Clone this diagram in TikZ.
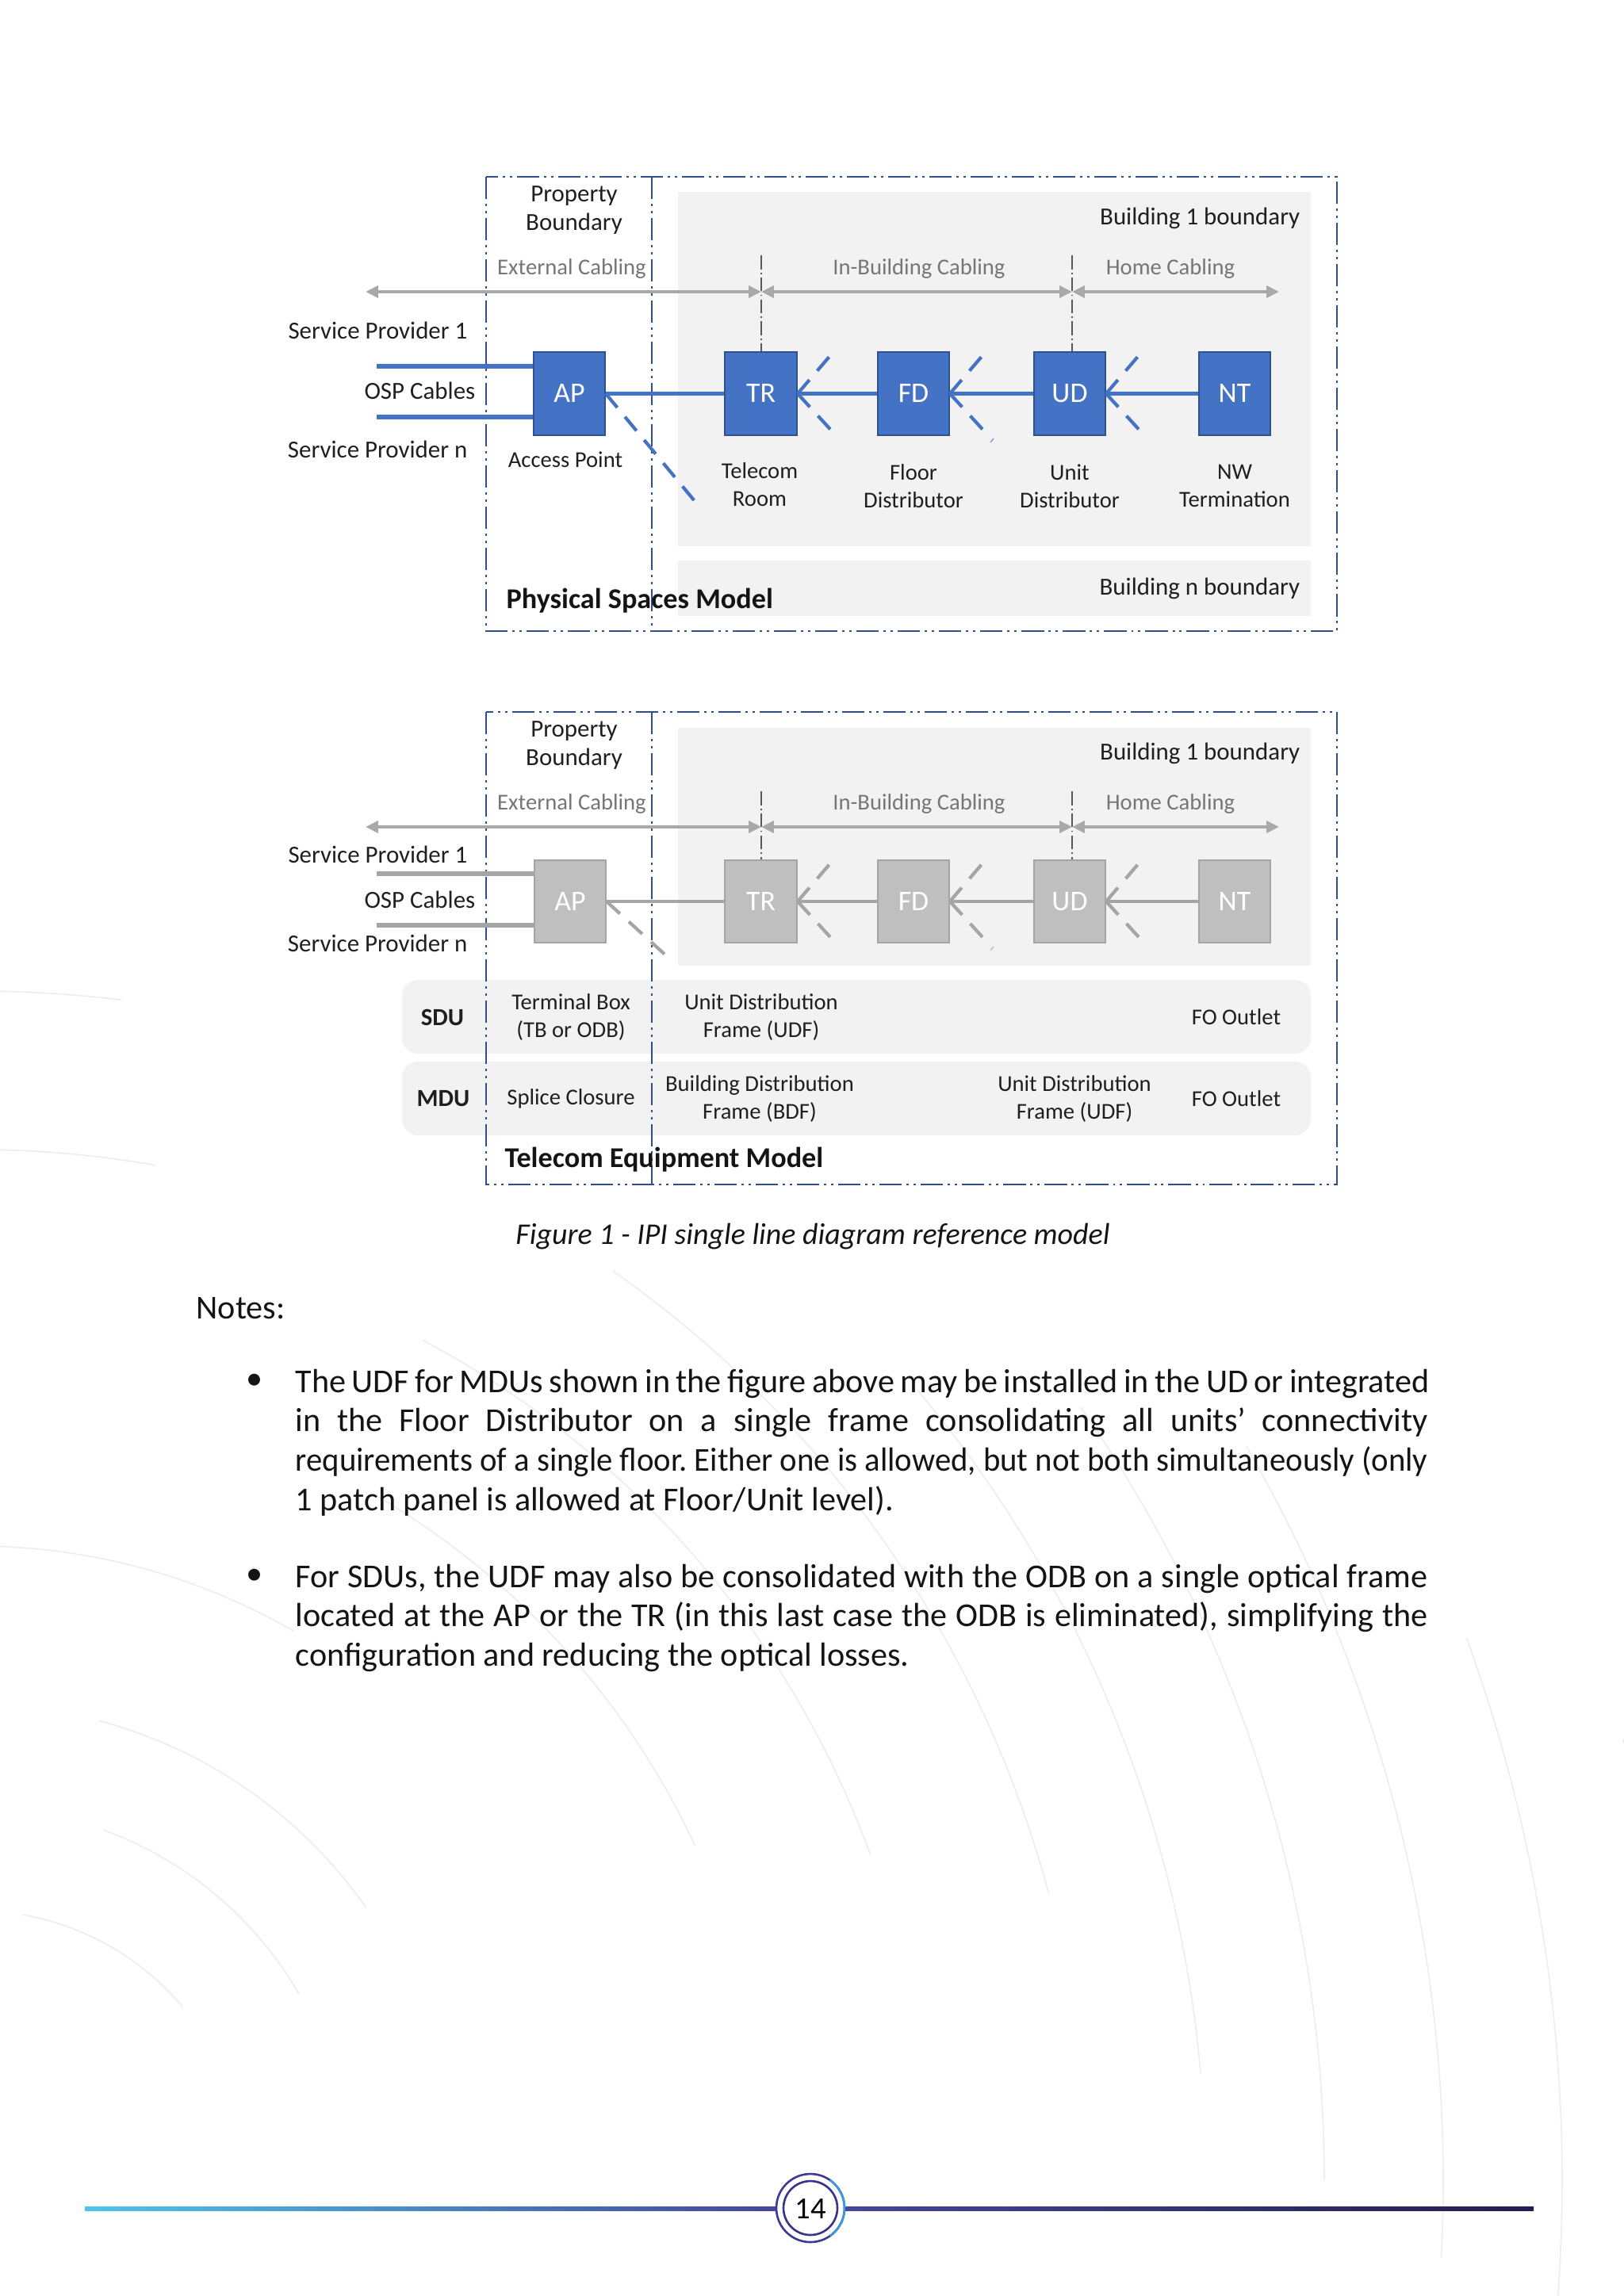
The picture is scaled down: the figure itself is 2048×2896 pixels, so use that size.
\documentclass[tikz,border=0pt]{standalone}
\usepackage{fontspec}
\usepackage{graphicx}
\setmainfont{Carlito}
\usetikzlibrary{arrows.meta}
\definecolor{apblue}{HTML}{4472C4}
\definecolor{apborder}{HTML}{2F528F}
\definecolor{bfill}{HTML}{F2F2F2}
\definecolor{arrgray}{HTML}{A9A9A9}
\definecolor{boxgray}{HTML}{BFBFBF}
\definecolor{boxgrayb}{HTML}{A5A5A5}
\definecolor{navy}{HTML}{2E4E8E}
\definecolor{txtgray}{HTML}{767676}
\definecolor{footcyan}{HTML}{4CC4EE}
\definecolor{footmid}{HTML}{3F56AA}
\definecolor{footblue}{HTML}{45469C}
\definecolor{footnavy}{HTML}{221E4D}
\definecolor{ringpurple}{HTML}{3F3A94}
\definecolor{ringblue}{HTML}{3B9BDA}
\definecolor{bgarc}{HTML}{EDEDED}
\newcommand\justline[1]{\makebox[142.8mm][s]{#1}}
\newcommand\squeezeline[1]{\resizebox{142.8mm}{\height}{#1}}
\newcommand\notespacing{\frenchspacing\spaceskip=0.226em plus 0.6em minus 0.05em\relax\xspaceskip=\spaceskip}
\begin{document}
\begin{tikzpicture}[x=0.1mm,y=-0.1mm,
  lbl/.style={font=\fontsize{8.8}{10.2}\selectfont, text=black!88, align=center, inner sep=0pt},
  slbl/.style={lbl, font=\fontsize{8.15}{10}\selectfont},
  glbl/.style={slbl, text=txtgray},
  blbl/.style={lbl, font=\bfseries\fontsize{8.8}{10.2}\selectfont},
  ttl/.style={font=\bfseries\fontsize{10.3}{12}\selectfont, text=black!92, inner sep=0pt, anchor=west},
  bbox/.style={rectangle, draw=apborder, fill=apblue, line width=0.5pt, minimum width=9mm, minimum height=10.5mm, inner sep=0pt, text=white, font=\fontsize{10.2}{12}\selectfont},
  gbox/.style={bbox, draw=boxgrayb, fill=boxgray, minimum height=10.4mm},
  cable/.style={draw=apblue, line width=1.4pt},
  osp/.style={draw=apblue, line width=1.6pt},
  gcable/.style={draw=boxgrayb, line width=1.4pt},
  gosp/.style={draw=boxgrayb, line width=1.6pt},
  arm/.style={draw=apblue, line width=1.2pt, dash pattern=on 6.5pt off 4.3pt},
  garm/.style={arm, draw=boxgrayb},
  span/.style={draw=arrgray, line width=1.1pt, {Triangle[length=4.5pt,width=4.2pt]}-{Triangle[length=4.5pt,width=4.2pt]}},
  sepl/.style={draw=black!65, line width=0.35pt, dash pattern=on 5pt off 1.2pt on 0.5pt off 1.2pt},
  outer/.style={draw=navy, line width=0.6pt, dash pattern=on 8pt off 1.7pt on 0.85pt off 1.7pt on 0.85pt off 1.7pt},
  rowbg/.style={fill=bfill, rounded corners=2mm},
  body/.style={font=\fontsize{12}{14.2}\selectfont, text=black!92, inner sep=0pt},
  para/.style={body, anchor=north west, text width=142.8mm, align=left}
]
\useasboundingbox (0,0) rectangle (2048,2896);
\fill[white] (0,0) rectangle (2048,2896);

% faint background arcs
\coordinate (C) at (-30,2750);
\foreach \r/\a/\b in {340/-80/-40, 470/-70/-30, 600/-75/-35, 800/-88/-60, 1000/-60/-25, 1200/-62/-20, 1300/-90/-80, 1400/-55/-15, 1500/-90/-83, 1550/-40/-5, 1700/-35/0, 1850/-30/3, 2000/-20/5, 2150/-15/5}
  \draw[bgarc, line width=0.45pt] (C) ++(\a:\r) arc[start angle=\a, end angle=\b, radius=\r];

%================ TOP DIAGRAM ================
\fill[bfill] (855,242) rectangle (1653,689);
\fill[bfill] (855,707) rectangle (1653,777);
\draw[outer] (613,223) rectangle (1686,796);
\draw[outer] (822,223) -- (822,796);

\node[bbox] (ap1) at (718,496.5) {AP};
\node[bbox, minimum width=9.1mm] (tr1) at (959.5,496.5) {TR};
\node[bbox] (fd1) at (1152,496.5) {FD};
\node[bbox] (ud1) at (1349,496.5) {UD};
\node[bbox] (nt1) at (1557,496.5) {NT};

\coordinate (o1a) at (475,462);
\coordinate (o1b) at (475,526);
\draw[osp] (o1a) -- (o1a -| ap1.west);
\draw[osp] (o1b) -- (o1b -| ap1.west);
\draw[cable] (ap1.east) -- (tr1.west);
\draw[cable] (fd1.west) -- (tr1.east);
\draw[cable] (ud1.west) -- (fd1.east);
\draw[cable] (nt1.west) -- (ud1.east);
\draw[arm] (ap1.east) -- ++(120,145);
\foreach \n in {tr1,fd1,ud1}{
  \draw[arm] (\n.east) -- ++(42,-49);
  \draw[arm] (\n.east) -- ++(43,47);
}
\draw[apblue!70, line width=0.4pt] (1249,558) -- (1253,553);

\coordinate (a1L) at (461,368);
\coordinate (a1T) at (960,368);
\coordinate (a1U) at (1352,368);
\coordinate (a1R) at (1613,368);
\draw[span] (a1L) -- (a1T);
\draw[span] (a1T) -- (a1U);
\draw[span] (a1U) -- (a1R);
\coordinate (s1T) at (960,322);
\coordinate (s1U) at (1352,322);
\draw[sepl] (s1T) -- (s1T |- tr1.north);
\draw[sepl] (s1U) -- (s1U |- ud1.north);

\node[lbl] (pb1) at (724,265) {Property\\Boundary};
\node[lbl, anchor=east] (b1t) at (1640,275) {Building 1 boundary};
\node[lbl, anchor=east] (bnt) at (1640,742) {Building n boundary};
\node[glbl] (ext1) at (721,339) {External Cabling};
\node[glbl] (inb1) at (1159,339) {In-Building Cabling};
\node[glbl] (home1) at (1476,339) {Home Cabling};
\node[lbl, anchor=east] (sp1a) at (590,417) {Service Provider 1};
\node[lbl, anchor=east] (ospl1) at (600,493) {OSP Cables};
\node[lbl, anchor=east] (spn1) at (590,567) {Service Provider n};
\node[slbl] (apl1) at (713,580) {Access Point};
\node[slbl] (trl1) at (958,611) {Telecom\\Room};
\node[slbl] (fdl1) at (1152,613) {Floor\\Distributor};
\node[slbl] (udl1) at (1349,613) {Unit\\Distributor};
\node[slbl] (ntl1) at (1557,613) {NW\\Termination};
\node[ttl] (psm) at (638,758) {Physical Spaces Model};

%================ BOTTOM DIAGRAM ================
\fill[bfill] (855,918) rectangle (1653,1218);
\fill[rowbg] (507,1236) rectangle (1653,1329);
\fill[rowbg] (507,1339) rectangle (1653,1432);
\draw[outer] (613,898) rectangle (1686,1494);
\draw[outer] (822,898) -- (822,1494);

\node[gbox] (ap2) at (719,1137) {AP};
\node[gbox, minimum width=9.1mm] (tr2) at (959.5,1137) {TR};
\node[gbox] (fd2) at (1152,1137) {FD};
\node[gbox] (ud2) at (1349,1137) {UD};
\node[gbox] (nt2) at (1557,1137) {NT};

\coordinate (o2a) at (475,1102);
\coordinate (o2b) at (475,1167);
\draw[gosp] (o2a) -- (o2a -| ap2.west);
\draw[gosp] (o2b) -- (o2b -| ap2.west);
\draw[gcable] (ap2.east) -- (tr2.west);
\draw[gcable] (fd2.west) -- (tr2.east);
\draw[gcable] (ud2.west) -- (fd2.east);
\draw[gcable] (nt2.west) -- (ud2.east);
\draw[garm] (ap2.east) -- ++(77,70);
\foreach \n in {tr2,fd2,ud2}{
  \draw[garm] (\n.east) -- ++(42,-49);
  \draw[garm] (\n.east) -- ++(43,47);
}
\draw[boxgrayb!70, line width=0.4pt] (1249,1199) -- (1253,1194);

\coordinate (a2L) at (461,1043);
\coordinate (a2T) at (960,1043);
\coordinate (a2U) at (1352,1043);
\coordinate (a2R) at (1613,1043);
\draw[span] (a2L) -- (a2T);
\draw[span] (a2T) -- (a2U);
\draw[span] (a2U) -- (a2R);
\coordinate (s2T) at (960,998);
\coordinate (s2U) at (1352,998);
\draw[sepl] (s2T) -- (s2T |- tr2.north);
\draw[sepl] (s2U) -- (s2U |- ud2.north);

\node[lbl] (pb2) at (724,940) {Property\\Boundary};
\node[lbl, anchor=east] (b1t2) at (1640,950) {Building 1 boundary};
\node[glbl] (ext2) at (721,1014) {External Cabling};
\node[glbl] (inb2) at (1159,1014) {In-Building Cabling};
\node[glbl] (home2) at (1476,1014) {Home Cabling};
\node[lbl, anchor=east] (sp1b) at (590,1078) {Service Provider 1};
\node[lbl, anchor=east] (ospl2) at (600,1135) {OSP Cables};
\node[lbl, anchor=east] (spn2) at (590,1190) {Service Provider n};

\node[blbl] (sdu) at (558,1283) {SDU};
\node[slbl] (tb) at (720,1283) {Terminal Box\\(TB or ODB)};
\node[slbl] (udfa) at (960,1283) {Unit Distribution\\Frame (UDF)};
\node[slbl] (foa) at (1559,1283) {FO Outlet};
\node[blbl] (mdu) at (559,1386) {MDU};
\node[slbl] (sc) at (720,1386) {Splice Closure};
\node[slbl] (bdf) at (958,1386) {Building Distribution\\Frame (BDF)};
\node[slbl] (udfb) at (1355,1386) {Unit Distribution\\Frame (UDF)};
\node[slbl] (fob) at (1559,1386) {FO Outlet};
\node[ttl] (tem) at (636,1463) {Telecom Equipment Model};

%================ CAPTION & NOTES ================
\node[font=\itshape\fontsize{10.8}{13}\selectfont, text=black!92, inner sep=0pt] (cap) at (1025,1560) {Figure 1 - IPI single line diagram reference model};
\node[body, anchor=west] (notes) at (247,1650) {Notes:};
\node[body] (bul1) at (321,1743) {\textbullet};
\node[body] (bul2) at (321,1989) {\textbullet};
\node[para] (p1) at (372,1726) {\notespacing
\justline{The UDF for MDUs shown in the figure above may be installed in the UD or integrated}\\
\justline{in the Floor Distributor on a single frame consolidating all units’ connectivity}\\
\squeezeline{requirements of a single floor. Either one is allowed, but not both simultaneously (only}\\
1 patch panel is allowed at Floor/Unit level).};
\node[para] (p2) at (372,1972) {\notespacing
\justline{For SDUs, the UDF may also be consolidated with the ODB on a single optical frame}\\
\justline{located at the AP or the TR (in this last case the ODB is eliminated), simplifying the}\\
configuration and reducing the optical losses.};

%================ FOOTER ================
\shade[left color=footcyan, middle color=footmid, right color=footblue] (107,2783) rectangle (979,2788);
\shade[left color=footblue, right color=footnavy] (1066,2783) rectangle (1934,2788);
\coordinate (pc) at (1022,2785);
\draw[ringpurple, line width=0.75pt] (pc) circle[radius=4.3mm];
\draw[ringblue, line width=0.75pt] (pc) ++(-55:43) arc[start angle=-55, end angle=55, radius=43];
\draw[ringpurple!90!black, line width=0.75pt] (pc) circle[radius=3.4mm];
\node[font=\fontsize{11}{13}\selectfont, inner sep=0pt] (pg) at (1022,2786) {14};
\end{tikzpicture}
\end{document}
